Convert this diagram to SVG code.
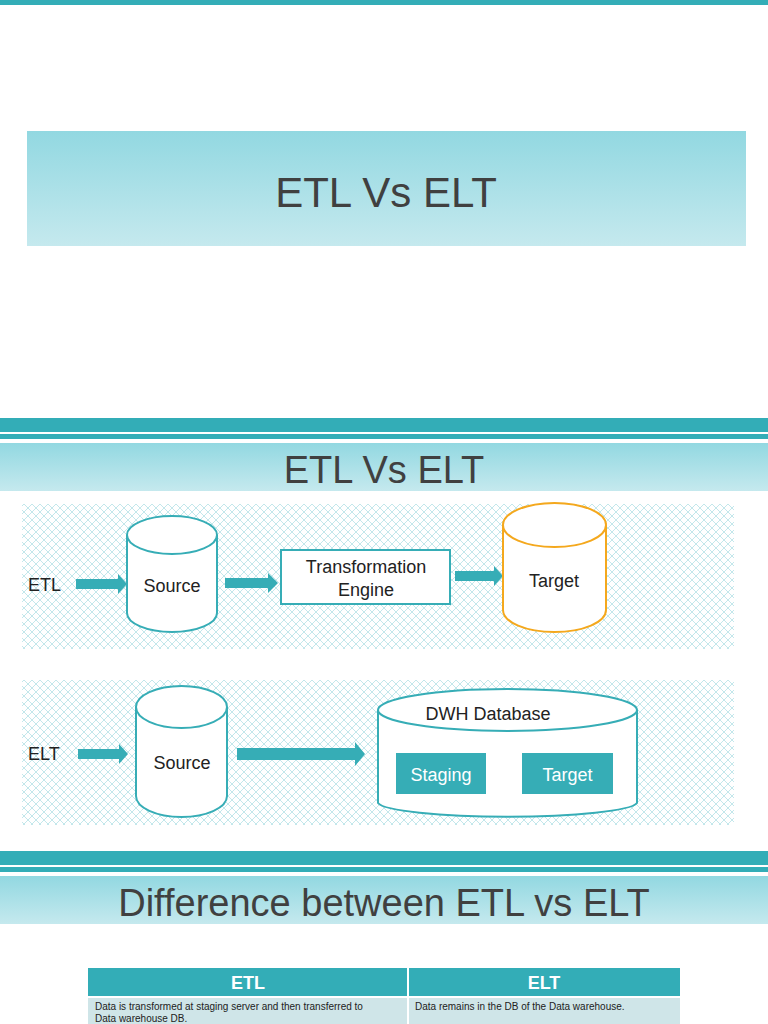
<svg xmlns="http://www.w3.org/2000/svg" width="768" height="1024" viewBox="0 0 768 1024">
<defs>
<linearGradient id="g" x1="0" y1="0" x2="0" y2="1"><stop offset="0" stop-color="#92d8e1"/><stop offset="1" stop-color="#c5e9ee"/></linearGradient>
<pattern id="h" width="8" height="8" patternUnits="userSpaceOnUse"><rect width="8" height="8" fill="#fff"/><path d="M0 0L8 8M8 0L0 8" stroke="#a9dde3" stroke-width="0.7"/></pattern>
<style>
.t{font-family:"Liberation Sans",Arial,sans-serif;fill:#222}
.h{font-family:"Liberation Sans",Arial,sans-serif;fill:#404040}
.c{fill:#fff;stroke:#36adb6;stroke-width:2}
.a{fill:#36adb6}
</style>
</defs>
<rect width="768" height="1024" fill="#fff"/>
<rect x="0" y="0" width="768" height="5" fill="#33adb7"/>
<g id="slide1"><rect x="27" y="131" width="719" height="115" fill="url(#g)"/>
<text class="h" x="386" y="207" font-size="42" text-anchor="middle">ETL Vs ELT</text></g>
<rect x="0" y="418" width="768" height="14" fill="#33adb7"/>
<rect x="0" y="434" width="768" height="5" fill="#33adb7"/>
<rect x="0" y="443" width="768" height="48" fill="url(#g)"/>
<text class="h" x="384" y="483" font-size="38" text-anchor="middle">ETL Vs ELT</text>
<rect x="22" y="504" width="712" height="145" fill="url(#h)"/>
<rect x="22" y="680" width="712" height="145" fill="url(#h)"/>
<text class="t" x="28" y="591" font-size="18">ETL</text>
<text class="t" x="28" y="760" font-size="18">ELT</text>
<g id="connectors">
<polygon class="a" points="76,579 118,579 118,574 127,584 118,594 118,589 76,589"/>
<polygon class="a" points="225,578 268,578 268,573 278,583 268,593 268,588 225,588"/>
<polygon class="a" points="455,571 494,571 494,566 503,576 494,586 494,581 455,581"/>
<polygon class="a" points="78,749 119,749 119,744 128,754 119,764 119,759 78,759"/>
<polygon class="a" points="237,748 355,748 355,742 365,754 355,766 355,760 237,760"/>
</g>
<g id="src1"><path class="c" d="M127 535 V613 A45 19 0 0 0 217 613 V535"/><ellipse class="c" cx="172" cy="535" rx="45" ry="19"/>
<text class="t" x="172" y="592" font-size="18" text-anchor="middle">Source</text></g>
<g id="trans"><rect x="281" y="550" width="169" height="54" fill="#fff" stroke="#36adb6" stroke-width="2"/>
<text class="t" x="366" y="573" font-size="18" text-anchor="middle">Transformation</text>
<text class="t" x="366" y="596" font-size="18" text-anchor="middle">Engine</text></g>
<g id="tgt1"><path d="M503 525 V610 A51.5 22 0 0 0 606 610 V525" fill="#fff" stroke="#f4a81d" stroke-width="2"/><ellipse cx="554.5" cy="525" rx="51.5" ry="22" fill="#fff" stroke="#f4a81d" stroke-width="2"/>
<text class="t" x="554" y="587" font-size="18" text-anchor="middle">Target</text></g>
<g id="src2"><path class="c" d="M136 707 V796 A45.5 21 0 0 0 227 796 V707"/><ellipse class="c" cx="181.5" cy="707" rx="45.5" ry="21"/>
<text class="t" x="182" y="769" font-size="18" text-anchor="middle">Source</text></g>
<g id="dwh"><path class="c" d="M378 710 V803 A130 15 0 0 0 637 803 V710"/><ellipse class="c" cx="507.5" cy="710" rx="129.5" ry="21"/>
<text class="t" x="488" y="720" font-size="18" text-anchor="middle">DWH Database</text></g>
<g id="staging"><rect x="396" y="753" width="90" height="41" fill="#36adb6"/><text x="441" y="781" font-size="18" text-anchor="middle" fill="#fff" font-family="Liberation Sans,Arial,sans-serif">Staging</text></g>
<g id="target2"><rect x="522" y="753" width="91" height="41" fill="#36adb6"/><text x="567.5" y="781" font-size="18" text-anchor="middle" fill="#fff" font-family="Liberation Sans,Arial,sans-serif">Target</text></g>
<rect x="0" y="851" width="768" height="14" fill="#33adb7"/>
<rect x="0" y="867" width="768" height="5" fill="#33adb7"/>
<rect x="0" y="876" width="768" height="48" fill="url(#g)"/>
<text class="h" x="384" y="916" font-size="38" text-anchor="middle">Difference between ETL vs ELT</text>
<g id="table">
<rect x="88" y="968" width="319" height="28" fill="#33adb7"/>
<rect x="409" y="968" width="271" height="28" fill="#33adb7"/>
<rect x="88" y="998" width="319" height="26" fill="#cfe5e8"/>
<rect x="409" y="998" width="271" height="26" fill="#cfe5e8"/>
<text x="248" y="989" font-size="18" font-weight="bold" fill="#fff" text-anchor="middle" font-family="Liberation Sans,Arial,sans-serif">ETL</text>
<text x="544" y="989" font-size="18" font-weight="bold" fill="#fff" text-anchor="middle" font-family="Liberation Sans,Arial,sans-serif">ELT</text>
<text class="t" x="95" y="1010" font-size="10">Data is transformed at  staging server and  then transferred to</text>
<text class="t" x="95" y="1022" font-size="10">Data warehouse DB.</text>
<text class="t" x="415" y="1010" font-size="10">Data remains in the DB of the Data warehouse.</text>
</g>
</svg>
